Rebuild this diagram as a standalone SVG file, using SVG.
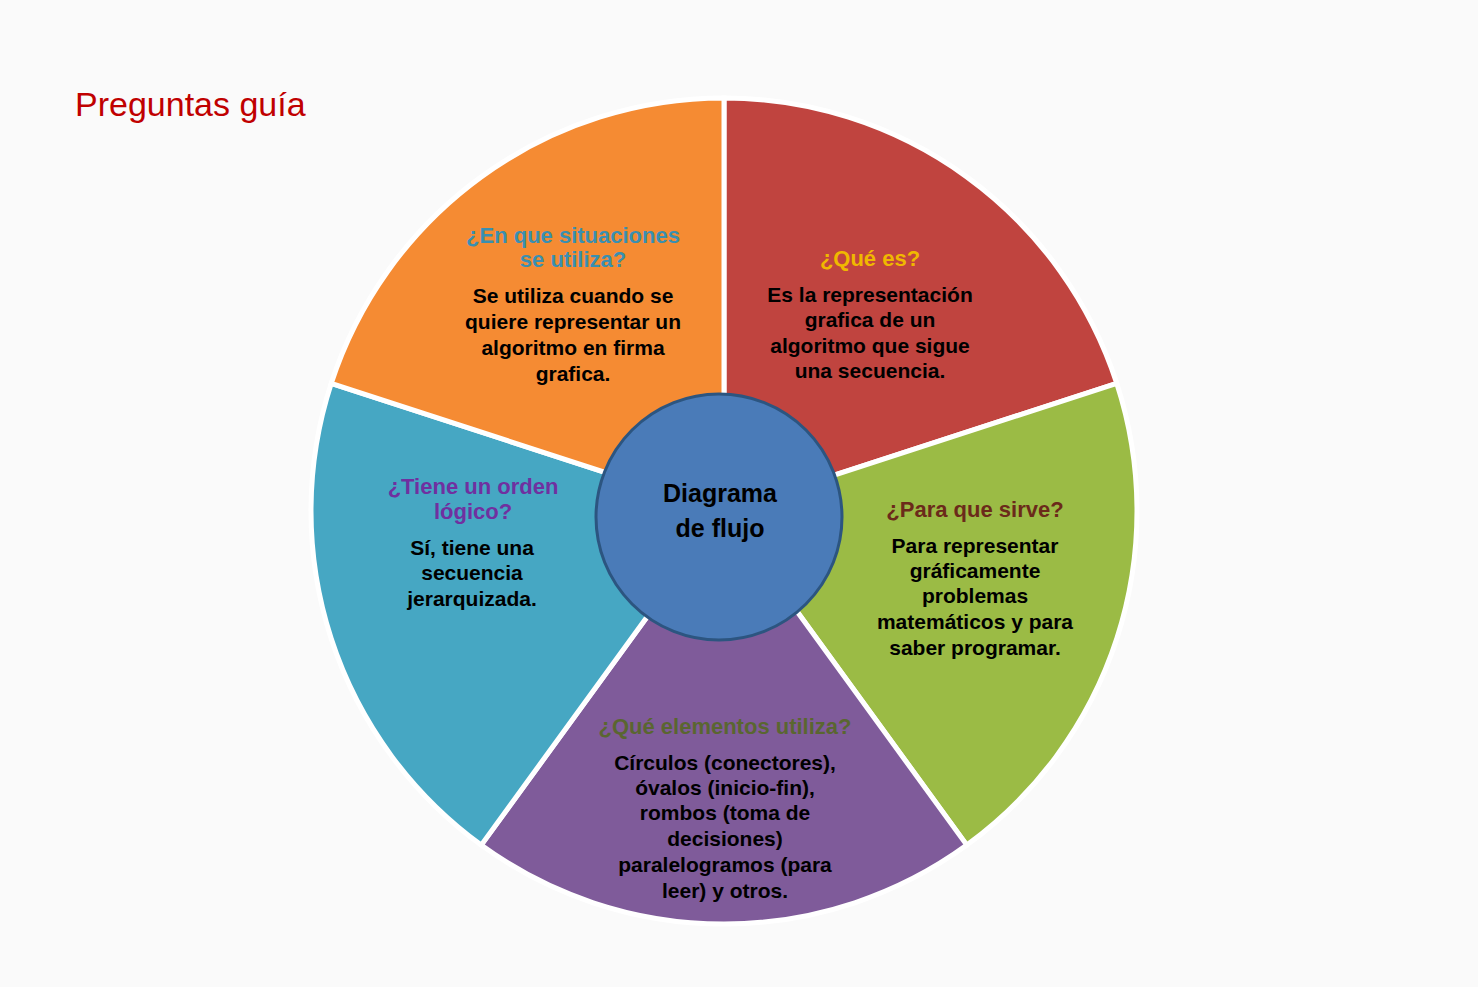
<svg xmlns="http://www.w3.org/2000/svg" width="1478" height="987" viewBox="0 0 1478 987">
<style>
.s{stroke:#fff;stroke-width:5}
text{font-family:"Liberation Sans",Arial,sans-serif;font-weight:bold;text-anchor:middle}
.h{font-size:22px}
.b{font-size:21px;fill:#000}
</style>
<rect width="1478" height="987" fill="#fafafa"/>
<text x="75" y="116" style="text-anchor:start;font-size:34px;font-weight:normal;fill:#c00000">Preguntas guía</text>
<g id="red"><path class="s" fill="#c0443f" d="M724,511 L724,98 A413,413 0 0 1 1116.8,383.4 Z"/>
<text class="h" x="870" y="266" fill="#f0b800">¿Qué es?</text>
<text class="b" x="870" y="302">Es la representación</text><text class="b" x="870" y="327">grafica de un</text><text class="b" x="870" y="353">algoritmo que sigue</text><text class="b" x="870" y="378">una secuencia.</text></g>
<g id="green"><path class="s" fill="#9bbb45" d="M724,511 L1116.8,383.4 A413,413 0 0 1 966.8,845.1 Z"/>
<text class="h" x="975" y="517" fill="#6b2a1a">¿Para que sirve?</text>
<text class="b" x="975" y="553">Para representar</text><text class="b" x="975" y="578">gráficamente</text><text class="b" x="975" y="603">problemas</text><text class="b" x="975" y="629">matemáticos y para</text><text class="b" x="975" y="655">saber programar.</text></g>
<g id="purple"><path class="s" fill="#7f5b9a" d="M724,511 L966.8,845.1 A413,413 0 0 1 481.2,845.1 Z"/>
<text class="h" x="725" y="734" fill="#5a6630">¿Qué elementos utiliza?</text>
<text class="b" x="725" y="770">Círculos (conectores),</text><text class="b" x="725" y="795">óvalos (inicio-fin),</text><text class="b" x="725" y="820">rombos (toma de</text><text class="b" x="725" y="846">decisiones)</text><text class="b" x="725" y="872">paralelogramos (para</text><text class="b" x="725" y="898">leer) y otros.</text></g>
<g id="teal"><path class="s" fill="#46a7c3" d="M724,511 L481.2,845.1 A413,413 0 0 1 331.2,383.4 Z"/>
<text class="h" x="473" y="494" fill="#7030a0">¿Tiene un orden</text><text class="h" x="473" y="519" fill="#7030a0">lógico?</text>
<text class="b" x="472" y="555">Sí, tiene una</text><text class="b" x="472" y="580">secuencia</text><text class="b" x="472" y="606">jerarquizada.</text></g>
<g id="orange"><path class="s" fill="#f58b33" d="M724,511 L331.2,383.4 A413,413 0 0 1 724,98 Z"/>
<text class="h" x="573" y="243" fill="#3a8fb0">¿En que situaciones</text><text class="h" x="573" y="267" fill="#3a8fb0">se utiliza?</text>
<text class="b" x="573" y="303">Se utiliza cuando se</text><text class="b" x="573" y="329">quiere representar un</text><text class="b" x="573" y="355">algoritmo en firma</text><text class="b" x="573" y="381">grafica.</text></g>
<g id="center"><circle cx="719" cy="517" r="123" fill="#4a7bb8" stroke="#2c5580" stroke-width="3"/>
<text x="720" y="502" style="font-size:25px">Diagrama</text><text x="720" y="537" style="font-size:25px">de flujo</text></g>
<g id="connectors"/>
</svg>
